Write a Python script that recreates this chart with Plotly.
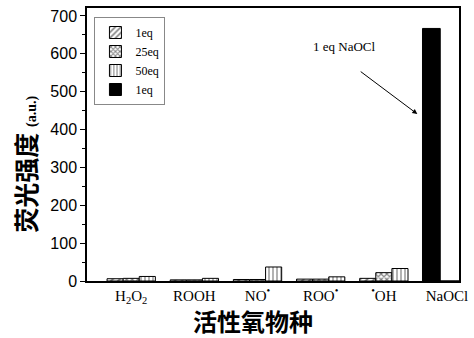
import plotly.graph_objects as go

categories = ["H<sub>2</sub>O<sub>2</sub>", "ROOH", "NO<sup>•</sup>", "ROO<sup>•</sup>", "<sup>•</sup>OH", "NaOCl"]
eq1 = [6, 3, 4, 5, 7, 0]
eq25 = [7, 3, 4, 5, 22, 0]
eq50 = [12, 7, 37, 11, 33, 0]
naocl_1eq = [667]
y_ticks = [0, 100, 200, 300, 400, 500, 600, 700]

xpos = list(range(len(categories)))
W = 0.255

fig = go.Figure()
fig.add_trace(go.Bar(x=xpos, y=eq1, name="1eq", offset=-1.5 * W,
                     marker=dict(color="white", pattern=dict(shape="/", fgcolor="black", size=5, solidity=0.4),
                                 line=dict(color="black", width=1)), width=W))
fig.add_trace(go.Bar(x=xpos, y=eq25, name="25eq", offset=-0.5 * W,
                     marker=dict(color="white", pattern=dict(shape="x", fgcolor="black", size=4, solidity=0.5),
                                 line=dict(color="black", width=1)), width=W))
fig.add_trace(go.Bar(x=xpos, y=eq50, name="50eq", offset=0.5 * W,
                     marker=dict(color="white", pattern=dict(shape="|", fgcolor="black", size=4, solidity=0.3),
                                 line=dict(color="black", width=1)), width=W))
fig.add_trace(go.Bar(x=[xpos[-1]], y=naocl_1eq, name="1eq", offset=-0.388, width=0.281,
                     marker=dict(color="black", line=dict(color="black", width=1))))

fig.update_layout(
    width=474, height=338,
    margin=dict(l=87, r=10, t=6, b=57),
    barmode="overlay",
    plot_bgcolor="white", paper_bgcolor="white",
    showlegend=True,
    legend=dict(x=0.02, y=0.967, xanchor="left", yanchor="top",
                bordercolor="#888", borderwidth=1, bgcolor="white",
                font=dict(family="Liberation Serif", size=12, color="black"),
                tracegroupgap=0, itemwidth=30),
    font=dict(family="Liberation Serif", color="black"),
)
fig.update_xaxes(range=[-0.7, 5.19], tickmode="array", tickvals=xpos, ticktext=categories,
                 showline=True, linecolor="black", linewidth=1.5, mirror=True,
                 ticks="", showgrid=False, zeroline=False,
                 tickfont=dict(family="Liberation Serif", size=15, color="black"))
fig.update_yaxes(range=[0, 721], tickmode="array", tickvals=y_ticks,
                 showline=True, linecolor="black", linewidth=1.5, mirror=True,
                 ticks="outside", ticklen=5, tickwidth=1.2, tickcolor="black",
                 minor=dict(ticks="outside", ticklen=3, tickwidth=1, tickcolor="black", dtick=50, tick0=0),
                 showgrid=False, zeroline=False,
                 tickfont=dict(family="Liberation Sans", size=16, color="black"))

fig.add_annotation(xref="paper", yref="paper", x=(24 - 87) / 377, y=1 - (163 - 6) / 275,
                   xanchor="center", yanchor="middle",
                   text="<b>荧光强度 <span style='font-size:14px;font-family:Liberation Serif'>(a.u.)</span></b>",
                   textangle=-90, showarrow=False,
                   font=dict(family="Noto Sans CJK SC", size=25, color="black"))
fig.add_annotation(xref="paper", yref="paper", x=(255 - 87) / 377, y=-(321 - 281) / 275,
                   xanchor="center", yanchor="middle",
                   text="<b>活性氧物种</b>", showarrow=False,
                   font=dict(family="Noto Sans CJK SC", size=24, color="black"))
fig.add_annotation(x=4.53, y=441, ax=3.61, ay=556, xref="x", yref="y", axref="x", ayref="y",
                   text="", showarrow=True, arrowhead=2, arrowsize=1, arrowwidth=1, arrowcolor="black")
fig.add_annotation(x=3.375, y=619, xref="x", yref="y", text="1 eq NaOCl", showarrow=False,
                   xanchor="center", yanchor="middle",
                   font=dict(family="Liberation Serif", size=13, color="black"))

fig.write_html("out.html")
